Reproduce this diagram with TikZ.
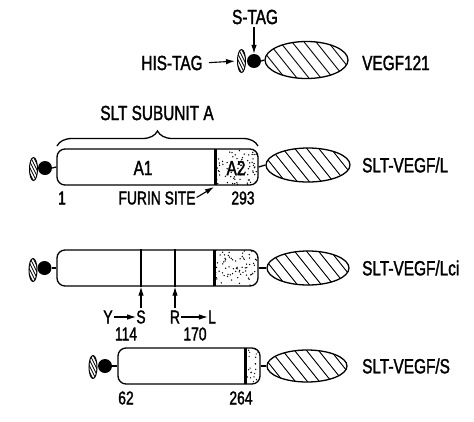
\documentclass[tikz,border=0pt]{standalone}
\usepackage{fontspec}
\setmainfont{Liberation Sans}[FakeStretch=0.75,FakeBold=1.6]
\usetikzlibrary{arrows.meta,shapes.geometric,decorations.pathreplacing,calc}
\begin{document}
\begin{tikzpicture}[x=1pt,y=-1pt,
  ol/.style={line width=1.3pt},
  big/.style={font=\fontsize{20.5}{22}\selectfont, inner sep=0},
  sml/.style={font=\fontsize{18.5}{20}\selectfont, inner sep=0},
  arr/.style={line width=1.1pt, -{Latex[length=9pt,width=5.5pt]}},
  dotn/.style={circle, fill=black, minimum size=14pt, inner sep=0},
  tagn/.style={ellipse, draw, line width=1pt, minimum width=8pt, minimum height=23pt, inner sep=0,
    path picture={\foreach \i in {-12,-9,...,12}{\draw[line width=0.7pt] ($(path picture bounding box.center)+(\i,0)$) ++(-6,-12) -- ++(12,24);}}},
  vegf/.style={ellipse, draw, ol, minimum width=83pt, minimum height=35pt, inner sep=0,
    path picture={\foreach \i in {-84,-72,...,84}{\draw[line width=0.9pt] ($(path picture bounding box.center)+(\i,0)$) ++(-16,-20) -- ++(32,40);}}},
  bar/.style={draw, ol, rounded corners=8pt, minimum height=36pt, inner sep=0},
]
\useasboundingbox (0,0) rectangle (474,421);

% ---------- Row 1: VEGF121 ----------
\node[tagn] (t1) at (241.5,61) {};
\node[dotn] (d1) at (254,61) {};
\node[vegf, minimum height=37pt] (e1) at (306.5,60) {};
\draw[ol] (d1.east) -- (e1.west);
\node[big, anchor=west] (n1) at (362,63) {VEGF121};
\node[big] (stag) at (255,17) {S-TAG};
\node[big] (his) at (172,63) {HIS-TAG};
\draw[arr, shorten <=3pt] (stag.south -| d1) -- (d1.north);
\draw[arr, shorten <=6pt, shorten >=2pt] (his.east) -- (t1.west);

% ---------- Row 2: SLT-VEGF/L ----------
\begin{scope}
  \clip[rounded corners=8pt] (57,149) rectangle (258,185);
  \pgfmathsetseed{3}
  \foreach \k in {1,...,75}{\fill ({215+43*rnd},{149+36*rnd}) circle (0.75);}
\end{scope}
\node[bar, minimum width=201pt] (r2) at (157.5,167) {};
\draw[line width=3pt] (215,149) -- (215,185);
\node[tagn] (t2) at (33.5,169) {};
\node[dotn] (d2) at (45,168) {};
\draw[ol] (d2.east) -- (r2.west);
\node[vegf, minimum width=84pt, minimum height=34pt] (e2) at (308,165) {};
\draw[ol] (r2.east) -- (e2.west);
\node[big, anchor=west] (n2) at (362,165) {SLT-VEGF/L};
\node[big] (a1) at (143,168) {A1};
\node[big] (a2) at (236,168) {A2};
\draw[ol, decorate, decoration={brace, amplitude=15pt}] (57,146) -- (258,146);
\node[big] (sub) at (157,113) {SLT SUBUNIT A};
\node[sml] (one) at (62,198) {1};
\node[sml] (furin) at (157,198) {FURIN SITE};
\node[sml] (n293) at (243,198) {293};
\coordinate (fs) at (214,187);
\draw[arr, shorten <=1pt] (furin.east) -- (fs);

% ---------- Row 3: SLT-VEGF/Lci ----------
\begin{scope}
  \clip[rounded corners=8pt] (57,250) rectangle (258,286);
  \pgfmathsetseed{11}
  \foreach \k in {1,...,75}{\fill ({215+43*rnd},{250+36*rnd}) circle (0.75);}
\end{scope}
\node[bar, minimum width=201pt] (r3) at (157.5,268) {};
\draw[line width=3pt] (214,250) -- (214,286);
\node[tagn] (t3) at (33,270) {};
\node[dotn] (d3) at (44.5,268) {};
\draw[ol] (d3.east) -- (r3.west);
\node[vegf, minimum width=82pt, minimum height=34pt] (e3) at (308,268) {};
\draw[ol] (r3.east) -- (e3.west);
\node[big, anchor=west] (n3) at (362,268) {SLT-VEGF/Lci};
\node[sml] (y1) at (108,317) {Y};
\node[sml] (s1) at (141,317) {S};
\node[sml] (rr) at (175,317) {R};
\node[sml] (ll) at (212,317) {L};
\draw[ol] (s1 |- r3.north) -- (s1 |- r3.south);
\draw[ol] (rr |- r3.north) -- (rr |- r3.south);
\draw[arr, shorten <=1pt] (y1) -- (s1);
\draw[arr, shorten <=1pt] (rr) -- (ll);
\draw[arr, shorten <=2pt] (s1.north) -- (s1 |- r3.south);
\draw[arr, shorten <=2pt] (rr.north) -- (rr |- r3.south);
\node[sml] (n114) at (126,334) {114};
\node[sml] (n170) at (195,334) {170};

% ---------- Row 4: SLT-VEGF/S ----------
\begin{scope}
  \clip[rounded corners=8pt] (118,348) rectangle (260,384);
  \pgfmathsetseed{5}
  \foreach \k in {1,...,25}{\fill ({245+15*rnd},{348+36*rnd}) circle (0.7);}
\end{scope}
\node[bar, minimum width=142pt] (r4) at (189,366) {};
\draw[line width=3pt] (245,348) -- (245,384);
\node[tagn] (t4) at (93,367) {};
\node[dotn] (d4) at (105,366) {};
\draw[ol] (d4.east) -- (r4.west);
\node[vegf, minimum width=80pt, minimum height=32pt] (e4) at (307,366) {};
\draw[ol] (r4.east) -- (e4.west);
\node[big, anchor=west] (n4) at (362,366) {SLT-VEGF/S};
\node[sml] (n62) at (126,398) {62};
\node[sml] (n264) at (241,398) {264};
\end{tikzpicture}
\end{document}
